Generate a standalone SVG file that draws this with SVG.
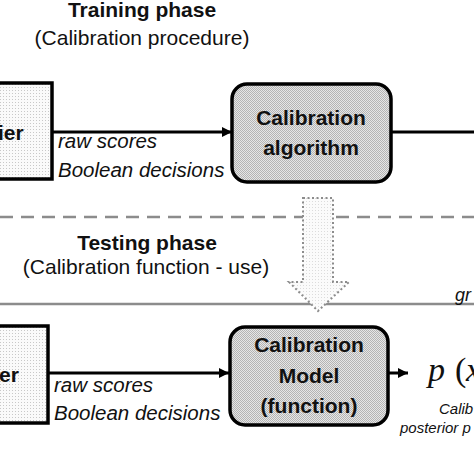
<svg xmlns="http://www.w3.org/2000/svg" width="474" height="474" viewBox="0 0 474 474">
<defs>
<pattern id="dots" width="3" height="3" patternUnits="userSpaceOnUse"><rect width="3" height="3" fill="#fafafa"/><rect width="1" height="1" fill="#c8c8c8"/></pattern>
<pattern id="check" width="2" height="2" patternUnits="userSpaceOnUse"><rect width="2" height="2" fill="#e6e6e6"/><rect width="1" height="1" fill="#b4b4b4"/><rect x="1" y="1" width="1" height="1" fill="#b4b4b4"/></pattern>
<pattern id="faint" width="3" height="3" patternUnits="userSpaceOnUse"><rect width="3" height="3" fill="#fbfbfb"/><rect width="1" height="1" fill="#dcdcdc"/></pattern>
<marker id="ah" viewBox="0 0 10 10" refX="10" refY="5" markerWidth="10" markerHeight="10" markerUnits="userSpaceOnUse" orient="auto"><path d="M0,0 L10,5 L0,10 z" fill="#000"/></marker>
<style>
.title{font-family:"Liberation Sans",Arial,sans-serif;font-weight:bold;font-size:21px;fill:#111}
.sub{font-family:"Liberation Sans",Arial,sans-serif;font-size:21px;fill:#111}
.lbl{font-family:"Liberation Sans",Arial,sans-serif;font-style:italic;font-size:20.5px;fill:#111}
.small{font-family:"Liberation Sans",Arial,sans-serif;font-style:italic;font-size:15px;fill:#111}
.box{fill:url(#dots);stroke:#000;stroke-width:3.5}
.cal{fill:url(#check);stroke:#000;stroke-width:3.5}
.conn{stroke:#000;stroke-width:3;fill:none}
</style>
</defs>
<text class="title" x="142" y="17" text-anchor="middle">Training phase</text>
<text class="sub" x="142" y="45" text-anchor="middle">(Calibration procedure)</text>
<text class="title" x="147" y="250" text-anchor="middle">Testing phase</text>
<text class="sub" x="146" y="274" text-anchor="middle">(Calibration function - use)</text>
<g id="separators">
<line x1="0" y1="217" x2="474" y2="217" stroke="#8c8c8c" stroke-width="2.5" stroke-dasharray="13 8"/>
<line x1="0" y1="304" x2="474" y2="304" stroke="#8c8c8c" stroke-width="2.5"/>
<text class="lbl" x="455" y="301" style="font-size:18px">gr</text>
</g>
<g id="classifier-train">
<rect class="box" x="-10" y="83" width="62" height="96"/>
<text class="title" x="-2" y="140">ier</text>
</g>
<g id="calibration-algorithm">
<rect class="cal" x="232" y="84" width="159" height="98" rx="15"/>
<text class="title" x="311" y="125" text-anchor="middle">Calibration</text>
<text class="title" x="311" y="155" text-anchor="middle">algorithm</text>
</g>
<g id="classifier-test">
<rect class="box" x="-10" y="326" width="58" height="97"/>
<text class="title" x="-1" y="382">er</text>
</g>
<g id="calibration-model">
<rect class="cal" x="230" y="327" width="158" height="98" rx="15"/>
<text class="title" x="309" y="352" text-anchor="middle">Calibration</text>
<text class="title" x="309" y="383" text-anchor="middle">Model</text>
<text class="title" x="309" y="413" text-anchor="middle">(function)</text>
</g>
<g id="output">
<text x="428" y="381" style="font-family:'Liberation Serif','Times New Roman',serif;font-style:italic;font-size:34px;fill:#111"><tspan x="428">p</tspan><tspan x="455" style="font-style:normal">(</tspan><tspan x="466">x</tspan></text>
<text class="small" x="439" y="414">Calib</text>
<text class="small" x="400" y="433">posterior p</text>
</g>
<g id="connectors">
<line class="conn" x1="52" y1="132" x2="232" y2="132" marker-end="url(#ah)"/>
<line class="conn" x1="391" y1="132" x2="474" y2="132"/>
<line class="conn" x1="48" y1="373" x2="229" y2="373" marker-end="url(#ah)"/>
<line class="conn" x1="388" y1="373" x2="408" y2="373" marker-end="url(#ah)"/>
<polygon points="303,198 333,198 333,282 349,282 318,311 289,282 303,282" fill="url(#faint)" stroke="#8c8c8c" stroke-width="2" stroke-dasharray="2 2.5"/>
</g>
<text class="lbl" x="58" y="148">raw scores</text>
<text class="lbl" x="58" y="177">Boolean decisions</text>
<text class="lbl" x="54" y="392">raw scores</text>
<text class="lbl" x="54" y="420">Boolean decisions</text>
</svg>
